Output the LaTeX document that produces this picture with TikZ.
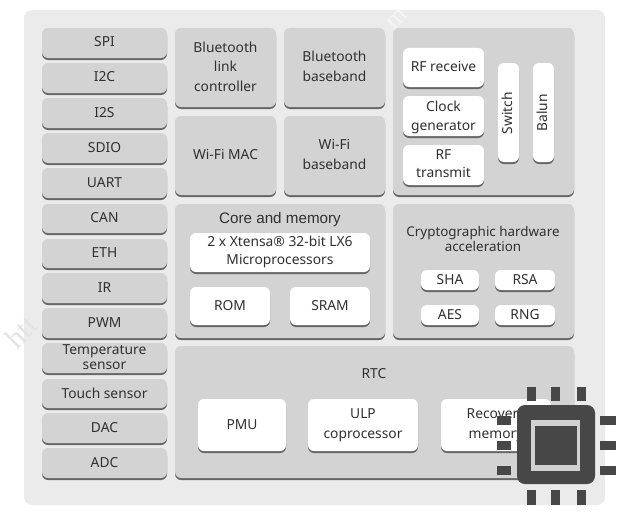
\documentclass[tikz,border=0pt]{standalone}
\usepackage{fontspec}
\setmainfont{Noto Sans}
\newfontfamily\arialfont{Liberation Sans}
\newfontfamily\wmfont{Liberation Serif}
\usetikzlibrary{shadows}
\definecolor{outerbg}{HTML}{EBEBEB}
\definecolor{blockbg}{HTML}{D3D3D3}
\definecolor{edgecol}{HTML}{666666}
\definecolor{inkcol}{HTML}{303030}
\definecolor{chipcol}{HTML}{474747}
\tikzset{
  x=1pt,y=-1pt,
  basebox/.style={rounded corners=6pt,inner sep=0pt,
    drop shadow={shadow xshift=0pt,shadow yshift=-2pt,fill=edgecol,opacity=1}},
  grey/.style={basebox,fill=blockbg},
  whitebox/.style={basebox,fill=white},
  title/.style={inner sep=0pt,align=center,text=inkcol,font=\fontsize{13.8}{19.5}\selectfont},
  pin/.style={fill=chipcol,draw=none},
  watermark/.style={inner sep=0pt,font=\wmfont\fontsize{30}{30}\selectfont}
}
% [text options], name, x0, y0, x1, y1, style, text
\newcommand\blk[8][]{%
  \node[#7,minimum width={(#5-#3)*1pt},minimum height={(#6-#4)*1pt}] (#2) at ({(#3+#5)/2},{(#4+#6)/2}) {};%
  \node[title,yshift=1pt,#1] (#2txt) at (#2.center) {#8};}
\newcommand\pnl[6]{%
  \node[#6,minimum width={(#4-#2)*1pt},minimum height={(#5-#3)*1pt}] (#1) at ({(#2+#4)/2},{(#3+#5)/2}) {};}
\begin{document}
\begin{tikzpicture}
\useasboundingbox (0,0) rectangle (620,511);
\fill[white] (0,0) rectangle (620,511);
\fill[outerbg,rounded corners=8pt] (24,10) rectangle (605,505);
% watermark fragments below the blocks
\node[watermark,rotate=45,text=black!11] (wmleft) at (21,332) {htt};
\node[watermark,rotate=45,text=white!96!black,font=\wmfont\fontsize{26}{26}\selectfont] (wmright) at (397,19) {m};
% left column
\blk{spi}{42}{28}{167}{58}{grey}{SPI}
\blk{iic}{42}{63}{167}{93}{grey}{I2C}
\blk[yshift=-1pt]{iis}{42}{98}{167}{128}{grey}{I2S}
\blk[yshift=-1pt]{sdio}{42}{133}{167}{163}{grey}{SDIO}
\blk[yshift=-1pt]{uart}{42}{168}{167}{198}{grey}{UART}
\blk{can}{42}{204}{167}{233}{grey}{CAN}
\blk{eth}{42}{239}{167}{268}{grey}{ETH}
\blk[yshift=-1pt]{ir}{42}{273}{167}{303}{grey}{IR}
\blk[yshift=-1pt]{pwm}{42}{308}{167}{338}{grey}{PWM}
\blk[font=\fontsize{13.8}{14.5}\selectfont]{temp}{42}{343}{167}{373}{grey}{Temperature\\sensor}
\blk[yshift=-1pt]{touch}{42}{379}{167}{408}{grey}{Touch sensor}
\blk[yshift=-1pt]{dac}{42}{413}{167}{443}{grey}{DAC}
\blk[yshift=-1pt]{adc}{42}{448}{167}{478}{grey}{ADC}
% radio blocks
\blk{btlink}{175}{28}{276}{107}{grey}{Bluetooth\\link\\controller}
\blk{btband}{284}{28}{385}{107}{grey}{Bluetooth\\baseband}
\blk{wifimac}{175}{116}{276}{195}{grey}{Wi-Fi MAC}
\blk{wifiband}{284}{116}{385}{195}{grey}{Wi-Fi\\baseband}
% RF panel
\pnl{rfpanel}{393}{28}{574}{195}{grey}
\blk{rfrx}{403}{48}{484}{87}{whitebox}{RF receive}
\blk[yshift=-2.5pt]{clock}{403}{96}{484}{136}{whitebox}{Clock\\generator}
\blk[yshift=0.5pt,font=\fontsize{13.8}{18.5}\selectfont]{rftx}{403}{145}{484}{185}{whitebox}{RF\\transmit}
\pnl{switch}{498}{63}{519}{162}{whitebox}
\pnl{balun}{533}{63}{554}{162}{whitebox}
\node[title,rotate=90] (switchtxt) at (507,113) {Switch};
\node[title,rotate=90] (baluntxt) at (542,113) {Balun};
% core and memory
\pnl{core}{175}{204}{385}{338}{grey}
\node[title,font=\arialfont\fontsize{15.2}{17}\selectfont] (coretxt) at (280,219.5) {Core and memory};
\blk[font=\fontsize{13.8}{18}\selectfont]{xtensa}{190}{233}{370}{272}{whitebox}{2 x Xtensa® 32-bit LX6\\Microprocessors}
\blk[yshift=-0.5pt]{rom}{190}{287}{270}{325}{whitebox}{ROM}
\blk[yshift=-0.5pt]{sram}{290}{287}{370}{325}{whitebox}{SRAM}
% crypto
\pnl{crypto}{393}{204}{574}{338}{grey}
\node[title,font=\fontsize{13.4}{15}\selectfont] (cryptotxt) at (483,239) {Cryptographic hardware\\acceleration};
\blk[yshift=-0.5pt]{sha}{421}{270}{479}{290}{whitebox}{SHA}
\blk[yshift=-0.5pt]{rsa}{495}{270}{555}{290}{whitebox}{RSA}
\blk[yshift=-0.5pt]{aes}{421}{305}{479}{325}{whitebox}{AES}
\blk[yshift=-0.5pt]{rng}{495}{305}{555}{325}{whitebox}{RNG}
% RTC
\pnl{rtc}{175}{346}{574}{478}{grey}
\node[title] (rtctxt) at (374,374) {RTC};
\blk[yshift=-1pt]{pmu}{198}{399}{286}{451}{whitebox}{PMU}
\blk[yshift=-1pt]{ulp}{308}{399}{418}{451}{whitebox}{ULP\\coprocessor}
\blk[yshift=-1pt]{recov}{441}{399}{551}{451}{whitebox}{Recovery\\memory}
% chip icon
\foreach \px in {531,555,581}{
  \fill[pin] (\px-4.5,387) rectangle (\px+4.5,401);
  \fill[pin] (\px-4.5,490) rectangle (\px+4.5,505);
}
\foreach \py in {420,445,470}{
  \fill[pin] (497,\py-4.5) rectangle (511,\py+4.5);
  \fill[pin] (600,\py-4.5) rectangle (616,\py+4.5);
}
\fill[chipcol,rounded corners=8pt] (517,405) rectangle (595,484);
\fill[white!82!black] (531,420) rectangle (580,471);
\fill[chipcol] (535,426) rectangle (577,465);
\end{tikzpicture}
\end{document}
